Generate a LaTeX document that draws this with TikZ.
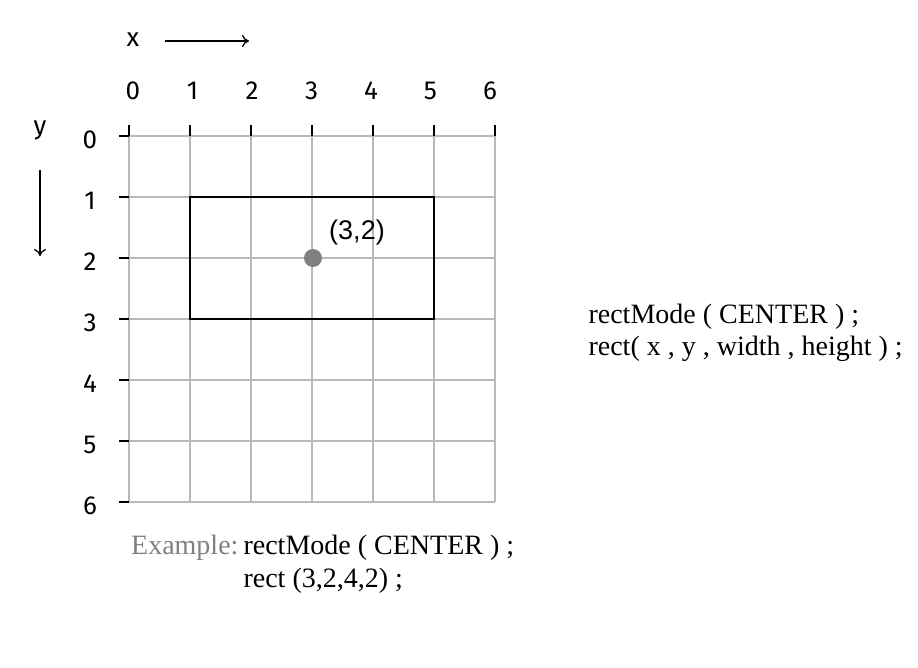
\documentclass[tikz,border=0pt]{standalone}
\usetikzlibrary{arrows.meta}
\usepackage{fontspec}
\setmainfont{Liberation Serif}
\newfontfamily\numf{Fira Sans}
\newfontfamily\arialf{Liberation Sans}
\begin{document}
\begin{tikzpicture}[x=1pt,y=-1pt,
  lab/.style={font=\numf\fontsize{26}{30}\selectfont},
  code/.style={font=\fontsize{28}{32}\selectfont, anchor=west, align=left},
  gridline/.style={draw=gray!55, line width=1.3pt},
  tick/.style={draw=black, line width=1.3pt}]
\clip (0,0) rectangle (918,668);
\fill[white] (0,0) rectangle (918,668);
\foreach \i in {0,...,6}{
  \draw[gridline] (129+61*\i,136) -- (129+61*\i,502);
  \draw[gridline] (129,136+61*\i) -- (495,136+61*\i);
  \draw[tick] (129+61*\i,125) -- (129+61*\i,136);
  \draw[tick] (119,136+61*\i) -- (129,136+61*\i);
  \node[lab] (cx\i) at (133+59.5*\i,91) {\i};
  \node[lab] (ry\i) at (90,140+61*\i) {\i};
}
\node[lab] (xl) at (133,40) {x};
\coordinate (xa) at (165,41);
\coordinate (xb) at (249,41);
\draw[-{To[length=7pt,width=12pt]}, line width=1.3pt] (xa) -- (xb);
\node[lab] (yl) at (40,130) {y};
\coordinate (ya) at (40,170);
\coordinate (yb) at (40,256);
\draw[-{To[length=7pt,width=12pt]}, line width=1.3pt] (ya) -- (yb);
\draw[line width=2.4pt] (190,197) rectangle (434,319);
\fill[gray] (313,258) circle (9);
\node[font=\arialf\fontsize{27}{30}\selectfont] (pl) at (357,233) {(3,2)};
\node[code] (r1) at (585,317) {rectMode ( CENTER ) ;};
\node[code] (r2) at (585,349) {rect( x , y , width , height ) ;};
\node[code, text=gray, anchor=east] (ex) at (242,548) {Example:};
\node[code] (e1) at (240,548) {rectMode ( CENTER ) ;};
\node[code] (e2) at (240,581) {rect (3,2,4,2) ;};
\end{tikzpicture}
\end{document}
